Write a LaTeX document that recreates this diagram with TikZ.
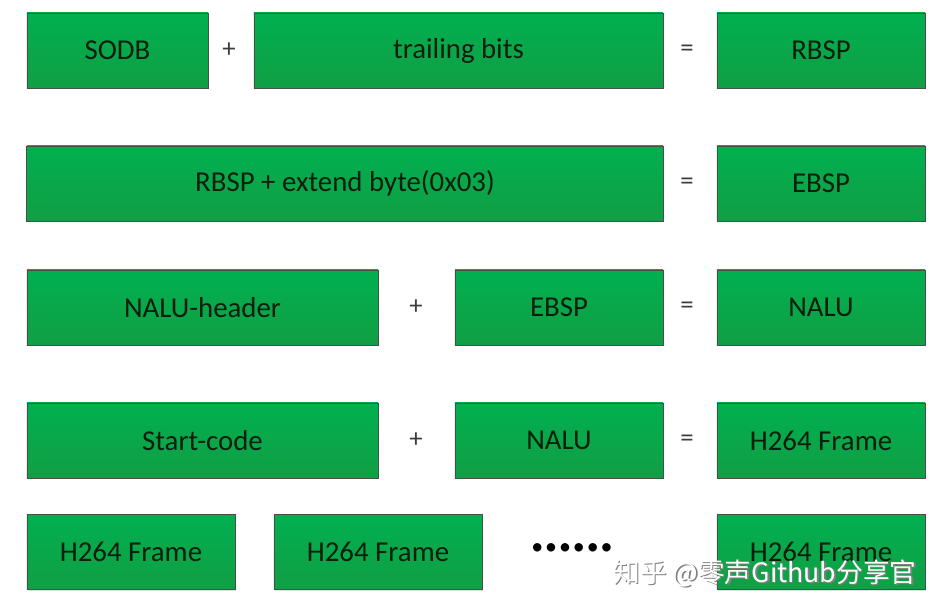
\documentclass[tikz,border=0pt]{standalone}
\usepackage{fontspec}
\setmainfont{Carlito}
\newfontfamily\cjk{Noto Sans CJK SC}
\usepackage{tikz}
\usetikzlibrary{shadows,calc}

\definecolor{boxgreen}{RGB}{0,176,80}
\definecolor{boxgreendark}{RGB}{18,158,68}
\definecolor{boxedge}{RGB}{70,80,70}
\definecolor{boxtext}{RGB}{12,30,14}
\definecolor{optext}{RGB}{60,60,60}

\tikzset{
  blk/.style={draw=boxedge, line width=0.6pt, rectangle, inner sep=0pt,
    minimum height=1.875cm, top color=boxgreen, bottom color=boxgreendark,
    text=boxtext, font=\fontsize{20.5}{24}\selectfont,
    drop shadow={opacity=0.25, shadow xshift=0.8pt, shadow yshift=-0.8pt}},
  op/.style={text=optext, font=\fontsize{19}{22}\selectfont}
}

\begin{document}
\begin{tikzpicture}[x=0.025cm,y=-0.025cm]
    \useasboundingbox (0,0) rectangle (947,610);
    % row 1
    \node[blk, minimum width=4.525cm]  (sodb)   at (117.5,50.5) {SODB};
    \node[op]                          (plus1)  at (229,50.5) {+};
    \node[blk, minimum width=10.225cm] (trail)  at (458.5,50.5) {trailing bits};
    \node[op]                          (eq1)    at (687,50.5) {=};
    \node[blk, minimum width=5.2cm]    (rbsp)   at (821,50.5) {RBSP};
    % row 2
    \node[blk, minimum width=15.9cm]   (ext)    at (345,183.5) {RBSP + extend byte(0x03)};
    \node[op]                          (eq2)    at (687,183.5) {=};
    \node[blk, minimum width=5.2cm]    (ebsp)   at (821,183.5) {EBSP};
    % row 3
    \node[blk, minimum width=8.775cm]  (hdr)    at (202.5,307.5) {NALU-header};
    \node[op]                          (plus3)  at (416,307.5) {+};
    \node[blk, minimum width=5.2cm]    (ebspb)  at (559,307.5) {EBSP};
    \node[op]                          (eq3)    at (687,307.5) {=};
    \node[blk, minimum width=5.2cm]    (nalu)   at (821,307.5) {NALU};
    % row 4
    \node[blk, minimum width=8.775cm]  (start)  at (202.5,440.5) {Start-code};
    \node[op]                          (plus4)  at (416,440.5) {+};
    \node[blk, minimum width=5.2cm]    (nalub)  at (559,440.5) {NALU};
    \node[op]                          (eq4)    at (687,440.5) {=};
    \node[blk, minimum width=5.2cm]    (frame)  at (821,440.5) {H264 Frame};
    % row 5
    \node[blk, minimum width=5.2cm]    (framea) at (131,552) {H264 Frame};
    \node[blk, minimum width=5.2cm]    (frameb) at (378,552) {H264 Frame};
    \node[text=black, font=\fontsize{17}{20}\selectfont] (dots) at (572,549)
        {•\kern1.4pt•\kern1.4pt•\kern1.4pt•\kern1.4pt•\kern1.4pt•};
    \node[blk, minimum width=5.2cm]    (framec) at (821,552) {H264 Frame};
    % watermark
    \node[text=black!50, font=\cjk\fontsize{19}{22}\selectfont] (markshadow) at (766.5,574.5) {知乎 @零声Github分享官};
    \node[text=white, font=\cjk\fontsize{19}{22}\selectfont] (mark) at (765,573) {知乎 @零声Github分享官};
\end{tikzpicture}
\end{document}
